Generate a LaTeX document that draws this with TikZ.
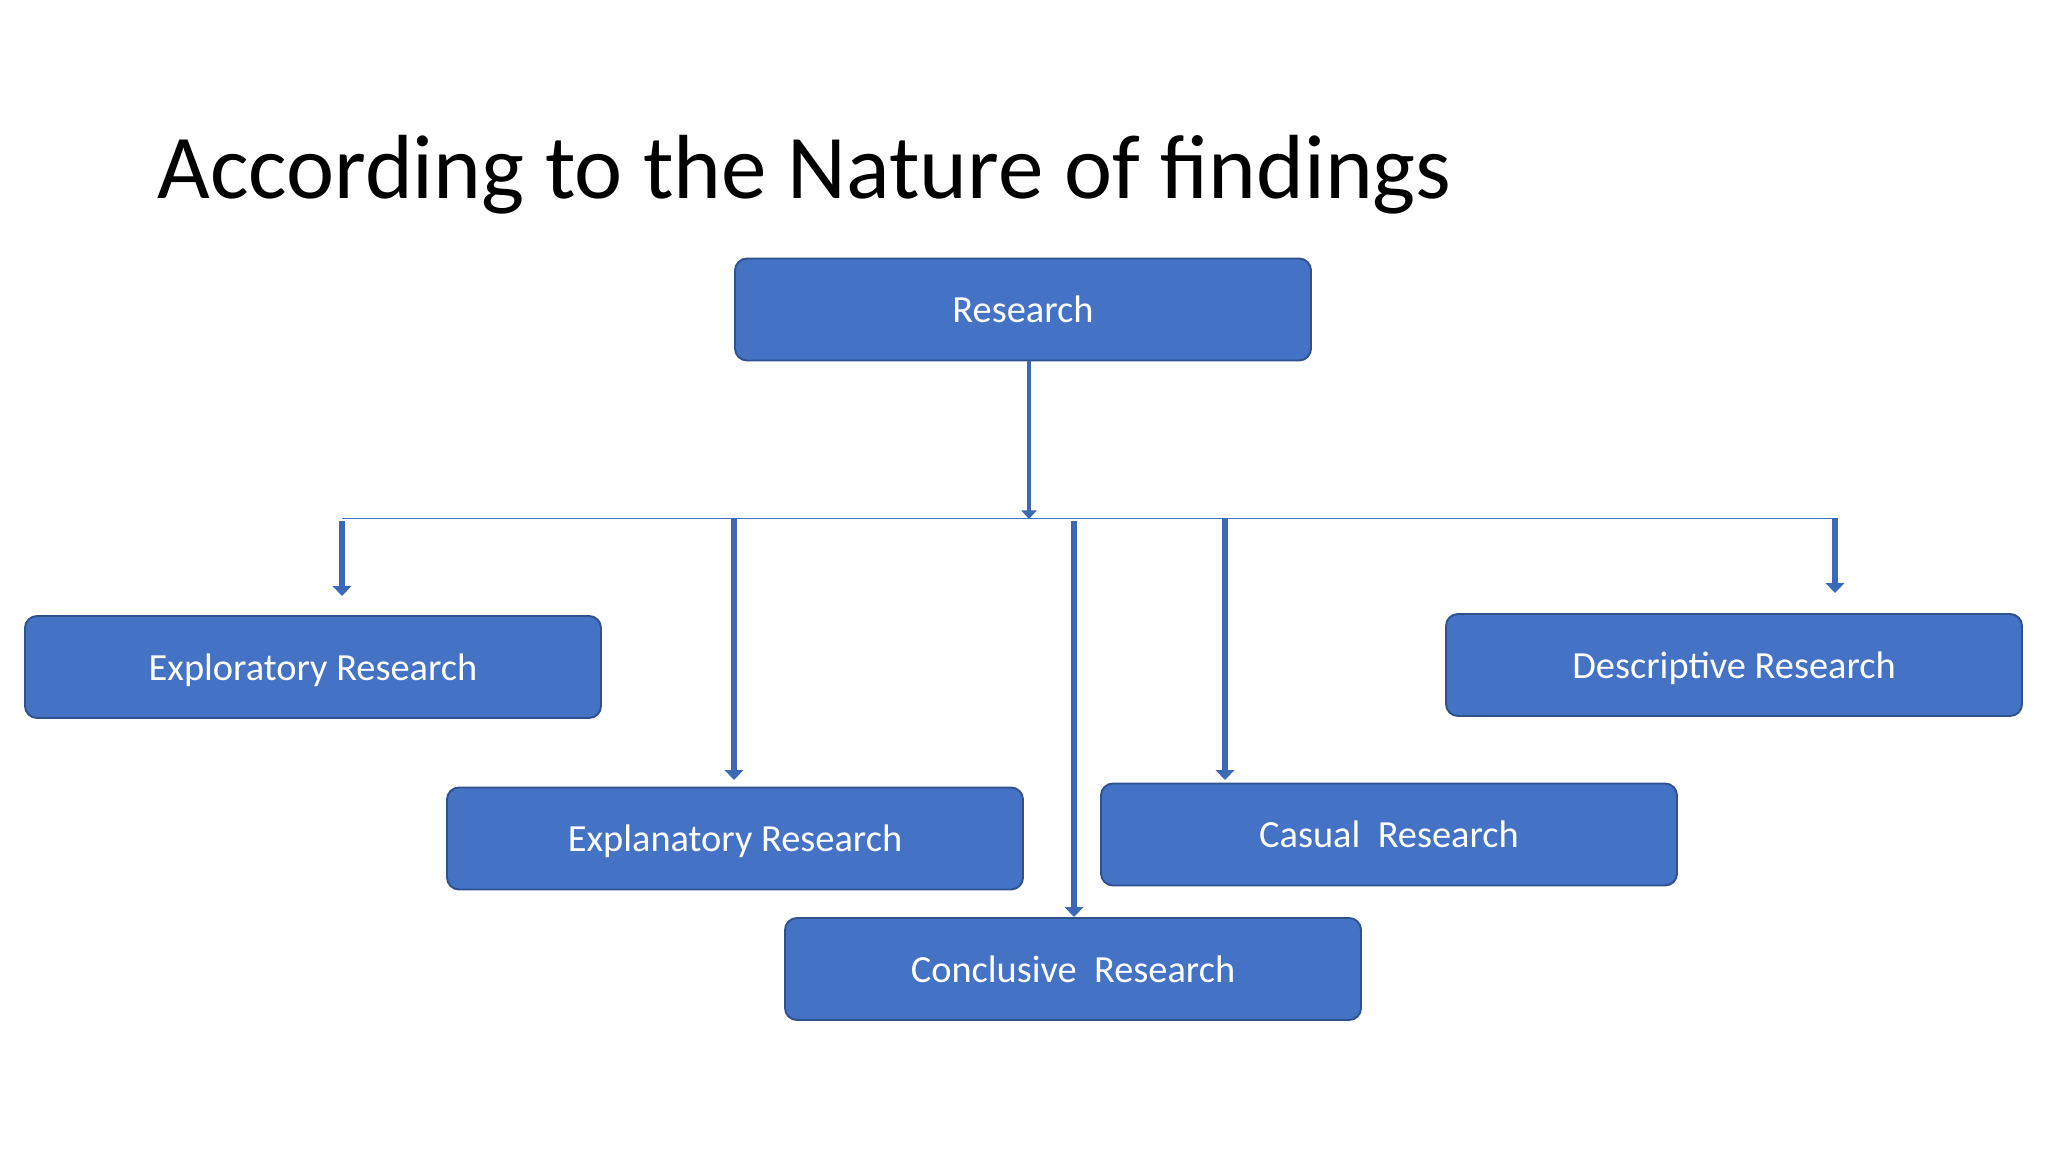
\documentclass[tikz,border=0pt]{standalone}
\usepackage{fontspec}
\setmainfont{Carlito}
\usetikzlibrary{arrows.meta}
\definecolor{boxfill}{HTML}{4472C4}
\definecolor{boxline}{HTML}{2F528F}
\definecolor{arrowcol}{HTML}{3C68B8}
\tikzset{
  box/.style={draw=boxline, line width=0.9pt, fill=boxfill, rounded corners=5.6pt,
    minimum width=270pt, minimum height=47.8pt, inner sep=0pt,
    text height=12.4pt, text depth=0pt,
    text=white, font=\fontsize{18}{21}\selectfont},
  blockarrow/.style={draw=arrowcol, line width=3.2pt,
    -{Triangle[width=8.5pt,length=4.6pt]}},
  mainarrow/.style={draw=arrowcol, line width=2.2pt,
    -{Triangle[width=7pt,length=4pt]}},
  hline/.style={draw=boxfill, line width=0.7pt},
  titletext/.style={anchor=base west, inner sep=0pt, font=\fontsize{42.7}{48}\selectfont}
}
\begin{document}
\begin{tikzpicture}[x=0.46875pt,y=-0.46875pt]
\useasboundingbox (0,0) rectangle (2048,1152);
\fill[white] (0,0) rectangle (2048,1152);
\node[titletext] (title) at (157,199) {According to the Nature of findings};
\node[box] (R) at (1023,309.5) {Research};
\node[box] (exp) at (313,667) {Exploratory Research};
\node[box] (expl) at (735,838.5) {Explanatory Research};
\node[box] (conc) at (1073,969) {Conclusive\ \ Research};
\node[box] (cas) at (1389,834.5) {Casual\ \ Research};
\node[box] (desc) at (1734,665) {Descriptive Research};
% horizontal bar
\coordinate (hl) at (342,518.5);
\coordinate (hr) at (1835,518.5);
\draw[hline] (hl) -- (hr);
% main arrow
\coordinate (m0) at (1029,519);
\draw[mainarrow] (R.south -| m0) -- (m0);
% branch arrows
\coordinate (s1) at (342,521);  \coordinate (t1) at (342,596);
\coordinate (s2) at (734,518);  \coordinate (t2) at (734,780);
\coordinate (s3) at (1074,521); \coordinate (t3) at (1074,917);
\coordinate (s4) at (1225,518); \coordinate (t4) at (1225,780);
\coordinate (s5) at (1835,518); \coordinate (t5) at (1835,593);
\draw[blockarrow] (s1) -- (t1);
\draw[blockarrow] (s2) -- (t2);
\draw[blockarrow] (s3) -- (t3);
\draw[blockarrow] (s4) -- (t4);
\draw[blockarrow] (s5) -- (t5);
\end{tikzpicture}
\end{document}
